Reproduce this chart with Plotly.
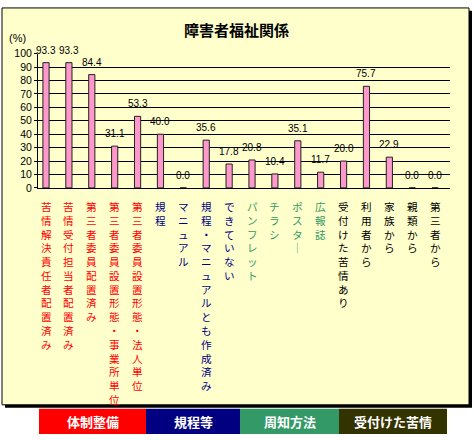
import plotly.graph_objects as go

W, H = 474, 440

categories = [
    "苦情解決責任者配置済み", "苦情受付担当者配置済み", "第三者委員配置済み",
    "第三者委員設置形態・事業所単位", "第三者委員設置形態・法人単位",
    "規程", "マニュアル", "規程・マニュアルとも作成済み", "できていない",
    "パンフレット", "チラシ", "ポスター", "広報誌",
    "受付けた苦情あり", "利用者から", "家族から", "親類から", "第三者から",
]
values = [93.3, 93.3, 84.4, 31.1, 53.3, 40.0, 0.0, 35.6, 17.8,
          20.8, 10.4, 35.1, 11.7, 20.0, 75.7, 22.9, 0.0, 0.0]
groups = [0, 0, 0, 0, 0, 1, 1, 1, 1, 2, 2, 2, 2, 3, 3, 3, 3, 3]
group_names = ["体制整備", "規程等", "周知方法", "受付けた苦情"]
group_colors = ["#FF0000", "#000080", "#339966", "#333300"]
label_colors = ["#FF0000", "#000080", "#339966", "#000000"]
y_ticks = [0, 10, 20, 30, 40, 50, 60, 70, 80, 90, 100]

FONT = "Noto Sans CJK JP"
NUM_FONT = "Liberation Sans"


def px(x):
    return x / W


def py(y):
    return 1 - y / H


idx = list(range(len(categories)))

fig = go.Figure()
fig.add_trace(go.Bar(
    x=idx, y=values, width=0.27,
    marker=dict(color="#FF99CC", line=dict(color="#222222", width=1)),
    hoverinfo="skip",
))

annotations = []
# value labels above each bar
for i, v in zip(idx, values):
    annotations.append(dict(
        x=i, y=v, xref="x", yref="y", text=f"{v:.1f}", showarrow=False,
        xanchor="center", yanchor="bottom", yshift=5,
        font=dict(family=NUM_FONT, size=10, color="#000000"),
    ))

# vertical category labels
for i, (name, g) in enumerate(zip(categories, groups)):
    chars = ["｜" if c == "ー" else c for c in name]
    annotations.append(dict(
        x=i, y=py(196), xref="x", yref="paper", text="<br>".join(chars),
        showarrow=False, yanchor="top", xanchor="center", align="center",
        font=dict(family=FONT, size=10.6, color=label_colors[g]),
    ))

annotations.append(dict(
    x=px(236), y=py(24), xref="paper", yref="paper", text="<b>障害者福祉関係</b>",
    showarrow=False, xanchor="center", yanchor="middle",
    font=dict(family=FONT, size=15, color="#000000"),
))
annotations.append(dict(
    x=px(17), y=py(33), xref="paper", yref="paper", text="(%)",
    showarrow=False, xanchor="center", yanchor="middle",
    font=dict(family=NUM_FONT, size=11, color="#000000"),
))

shapes = [
    # shadow and frame
    dict(type="rect", xref="paper", yref="paper", x0=px(5), x1=px(472), y0=py(413), y1=py(5),
         fillcolor="#000000", line=dict(width=0), layer="below"),
    dict(type="rect", xref="paper", yref="paper", x0=px(2), x1=px(469), y0=py(410), y1=py(2),
         fillcolor="#FFFFCC", line=dict(color="#000000", width=1), layer="below"),
]

# group legend bar at the bottom
edges = [39, 146, 240, 339, 447]
for k, name in enumerate(group_names):
    shapes.append(dict(
        type="rect", xref="paper", yref="paper", x0=px(edges[k]), x1=px(edges[k + 1]),
        y0=0, y1=py(414), fillcolor=group_colors[k], line=dict(width=0),
    ))
    annotations.append(dict(
        x=px((edges[k] + edges[k + 1]) / 2), y=py(427), xref="paper", yref="paper",
        text=f"<b>{name}</b>", showarrow=False, xanchor="center", yanchor="middle",
        font=dict(family=FONT, size=13, color="#FFFFFF"),
    ))

fig.update_layout(
    width=W, height=H,
    margin=dict(l=0, r=0, t=0, b=0),
    paper_bgcolor="#FFFFFF",
    plot_bgcolor="#C0C0C0",
    showlegend=False,
    annotations=annotations,
    shapes=shapes,
    xaxis=dict(
        domain=[px(38), px(450)], range=[-0.35, 17.65],
        showticklabels=False, showgrid=False, zeroline=False,
        showline=True, linecolor="#000000", linewidth=1, ticks="",
        fixedrange=True,
    ),
    yaxis=dict(
        domain=[py(187), py(49)], range=[0, 100],
        tickvals=y_ticks, ticktext=[str(t) for t in y_ticks],
        tickfont=dict(family=NUM_FONT, size=10.5, color="#000000"),
        ticks="outside", ticklen=3, tickcolor="#000000",
        showgrid=True, gridcolor="#000000", gridwidth=1,
        zeroline=False, showline=True, linecolor="#000000", linewidth=1,
        fixedrange=True,
    ),
)

# the page body has a default 8px margin; drop it so the figure sits at the corner
fig.write_html("out.html", config={"displayModeBar": False},
               post_script="document.body.style.margin='0';")
